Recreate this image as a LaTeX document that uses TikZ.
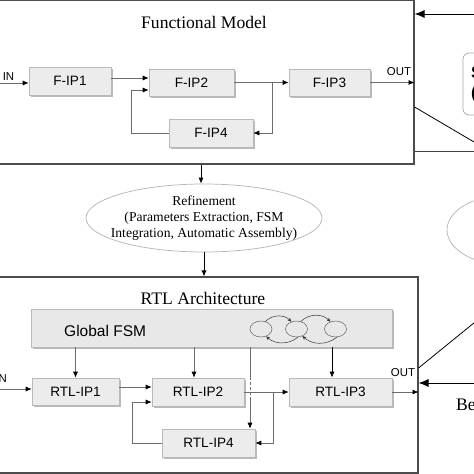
\documentclass[tikz,border=0pt]{standalone}
\usepackage{fontspec}
\setmainfont{Liberation Serif}
\setsansfont{Liberation Sans}
\usepackage{tikz}
\usetikzlibrary{arrows,arrows.meta,shapes,shapes.geometric,shadows,positioning}

\begin{document}
\begin{tikzpicture}[x=1pt,y=-1pt,->,>={Latex[length=6pt,width=5pt,color=black]},
  ip node/.style={rectangle,draw=gray!55,fill=gray!15,line width=0.6pt,inner sep=0pt,
    drop shadow={shadow xshift=1.5pt,shadow yshift=-1.5pt,fill=gray!55,opacity=1},
    font=\fontsize{13.6}{16}\sffamily},
  fsm box/.style={rectangle,draw=gray!55,fill=gray!18,line width=0.6pt,inner sep=0pt,
    drop shadow={shadow xshift=1.5pt,shadow yshift=-1.5pt,fill=gray!55,opacity=1}},
  outer box/.style={rectangle,draw=black!70,line width=1.1pt,inner sep=0pt},
  title/.style={font=\fontsize{17.6}{21}\selectfont,inner sep=0pt},
  io label/.style={font=\fontsize{11.4}{13}\sffamily,inner sep=0pt},
  wire/.style={draw=gray!85!black,line width=0.7pt},
  big arrow/.style={draw=black,line width=0.9pt,-{Latex[length=10pt,width=8pt]}},
  state/.style={ellipse,draw=gray!75!black,line width=0.5pt,minimum width=22pt,minimum height=16pt,inner sep=0pt},
  fsm edge/.style={draw=black!80,line width=0.5pt,-{Stealth[length=4pt,width=3.5pt]}}]
          \useasboundingbox (0,0) rectangle (474,474);
          \clip (0,0) rectangle (474,474);
          \node[outer box,minimum width=426pt,minimum height=164pt] at (201,82) (fm) {};
          \node[title] at (204,22) (fmtitle) {Functional Model};
          \node[ip node,minimum width=82pt,minimum height=28pt] at (70,81) (fip1) {F-IP1};
          \node[ip node,minimum width=85pt,minimum height=27pt] at (191.5,82.5) (fip2) {F-IP2};
          \node[ip node,minimum width=81pt,minimum height=27pt] at (329.5,82.5) (fip3) {F-IP3};
          \node[ip node,minimum width=84pt,minimum height=28pt] at (211,133) (fip4) {F-IP4};
          \node[io label] at (8.5,76.5) (fin) {IN};
          \node[io label] at (399,72) (fout) {OUT};
          \coordinate (fstart) at (-5,83);
          \coordinate (fsplit) at (272,82.5);
          \draw[wire] (fstart) -- (fstart -| fip1.west);
          \draw[wire] ([yshift=3pt]fip1.east) -- ([yshift=4.5pt]fip2.west);
          \draw[wire] (fip2.east) -- (fip3.west);
          \draw[wire] (fip3.east) -- (fip3.east -| fm.east);
          \draw[wire] (fsplit) |- (fip4.east);
          \draw[wire] (fip4.west) -- ++(-37,0) |- ([yshift=-7.5pt]fip2.west);
          \node[ellipse,draw=gray!60,line width=0.7pt,align=center,inner xsep=-25pt,inner ysep=0pt,
            minimum width=236pt,minimum height=68pt,font=\fontsize{13.6}{16}\selectfont]
            at (204,218) (refine) {Refinement\\(Parameters Extraction, FSM\\Integration, Automatic Assembly)};
          \draw[draw=black,line width=0.8pt] (fm.south) -- (fm.south |- refine.north);
          \node[outer box,minimum width=428pt,minimum height=196pt] at (204,375) (rtl) {};
          \draw[draw=black,line width=0.8pt] (refine.south) -- (rtl.north);
          \node[title] at (203,298) (rtltitle) {RTL Architecture};
          \node[fsm box,minimum width=361pt,minimum height=38pt] at (211.5,328) (fsm) {};
          \node[anchor=west,inner sep=0pt,font=\fontsize{15.5}{18}\sffamily] at (64,331) (fsmlabel) {Global FSM};
          \node[state] at (261,329) (s1) {};
          \node[state] at (296.5,329) (s2) {};
          \node[state] at (335.5,329) (s3) {};
          \draw[fsm edge] (s1.60) to[bend left=45] (s2.125);
          \draw[fsm edge] (s2.60) to[bend left=45] (s3.125);
          \draw[fsm edge] (s2.-80) to[bend left=40] (s1.-55);
          \draw[fsm edge] (s3.-80) to[bend left=40] (s2.-50);
          \node[ip node,minimum width=87pt,minimum height=27pt] at (75.5,391.5) (rip1) {RTL-IP1};
          \node[ip node,minimum width=92pt,minimum height=28pt] at (198,392) (rip2) {RTL-IP2};
          \node[ip node,minimum width=103pt,minimum height=28pt] at (340.5,392) (rip3) {RTL-IP3};
          \node[ip node,minimum width=93pt,minimum height=28pt] at (208.5,443) (rip4) {RTL-IP4};
          \node[io label,anchor=east] at (7,378.5) (rin) {IN};
          \node[io label] at (403,372.5) (rout) {OUT};
          \coordinate (rstart) at (-5,389);
          \coordinate (rsplit) at (273,392);
          \draw[wire] (rstart) -- (rstart -| rip1.west);
          \draw[wire] ([yshift=4.5pt]rip1.east) -- ([yshift=5pt]rip2.west);
          \draw[wire] (rip2.east) -- (rip3.west);
          \draw[wire] (rip3.east) -- (rip3.east -| rtl.east);
          \draw[wire] (rsplit) |- (rip4.east);
          \draw[wire] (rip4.west) -- ++(-29,0) |- ([yshift=-10pt]rip2.west);
          \draw[wire] (rip1.north |- fsm.south) -- (rip1.north);
          \draw[wire] ([xshift=-4pt]rip2.north |- fsm.south) -- ([xshift=-4pt]rip2.north);
          \draw[draw=black,line width=0.9pt] ([xshift=-8.5pt]rip3.north |- fsm.south) -- ([xshift=-8.5pt]rip3.north);
          \coordinate (dash1) at (250,377);
          \coordinate (dash2) at (250,398);
          \draw[wire,-] (dash1 |- fsm.south) -- (dash1);
          \draw[wire,-,dash pattern=on 3pt off 2pt] (dash1) -- (dash2);
          \draw[wire] (dash2) -- (dash2 |- rip4.north);
          \coordinate (rtop) at (480,14);
          \coordinate (fline) at (480,151);
          \coordinate (fslant) at (480,145.5);
          \coordinate (rslant) at (480,318);
          \coordinate (rbot) at (480,383);
          \draw[big arrow] (rtop) -- (rtop -| fm.east);
          \draw[-,draw=black!75,line width=0.8pt] (fline -| fm.east) -- (fline);
          \draw[-,draw=black,line width=0.8pt] ([yshift=-25pt]fm.east) -- (fslant);
          \node[rectangle,rounded corners=6pt,draw=gray!70,line width=0.7pt,minimum width=80pt,minimum height=62pt,
            text width=64pt,inner xsep=8pt,align=left,font=\fontsize{17}{20}\sffamily\bfseries]
            at (503,84) (sbox) {S\\(};
          \node[ellipse,draw=gray!60,line width=0.7pt,minimum width=120pt,minimum height=70pt] at (507,230) (bmodel) {};
          \draw[-,draw=black,line width=0.8pt] ([yshift=7pt]rtl.east) -- (rslant);
          \draw[big arrow] (rbot) -- (rbot -| rtl.east);
          \node[anchor=base west,inner sep=0pt,font=\fontsize{17.6}{21}\selectfont] at (456,410) (bemodel) {Be};
        \end{tikzpicture}
\end{document}
